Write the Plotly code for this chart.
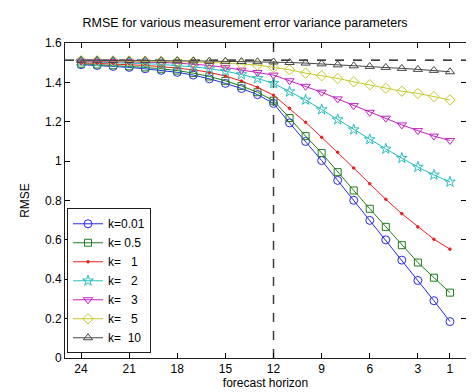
import plotly.graph_objects as go

horizon = list(range(24, 0, -1))

k_001 = [1.490, 1.486, 1.481, 1.476, 1.469, 1.461, 1.451, 1.437, 1.418, 1.395, 1.369, 1.338,
         1.293, 1.194, 1.100, 1.003, 0.902, 0.801, 0.699, 0.600, 0.497, 0.394, 0.291, 0.185]
k_05 = [1.495, 1.491, 1.487, 1.482, 1.476, 1.469, 1.460, 1.447, 1.430, 1.408, 1.382, 1.350,
        1.307, 1.219, 1.127, 1.041, 0.944, 0.851, 0.758, 0.666, 0.573, 0.485, 0.408, 0.332]
k_1 = [1.500, 1.497, 1.494, 1.490, 1.486, 1.480, 1.473, 1.464, 1.451, 1.432, 1.407, 1.375,
       1.335, 1.268, 1.197, 1.121, 1.045, 0.965, 0.885, 0.806, 0.733, 0.666, 0.603, 0.553]
k_2 = [1.505, 1.503, 1.501, 1.498, 1.495, 1.491, 1.486, 1.479, 1.470, 1.457, 1.440, 1.420,
       1.395, 1.353, 1.311, 1.262, 1.211, 1.160, 1.110, 1.062, 1.015, 0.970, 0.930, 0.894]
k_3 = [1.508, 1.507, 1.506, 1.505, 1.503, 1.501, 1.498, 1.493, 1.486, 1.476, 1.462, 1.450,
       1.437, 1.408, 1.380, 1.350, 1.316, 1.282, 1.248, 1.218, 1.184, 1.155, 1.127, 1.105]
k_5 = [1.510, 1.510, 1.509, 1.509, 1.508, 1.507, 1.506, 1.504, 1.501, 1.498, 1.493, 1.488,
       1.476, 1.464, 1.447, 1.434, 1.420, 1.403, 1.388, 1.370, 1.355, 1.344, 1.328, 1.311]
k_10 = [1.512, 1.512, 1.511, 1.511, 1.511, 1.510, 1.510, 1.509, 1.508, 1.507, 1.506, 1.505,
        1.504, 1.501, 1.498, 1.494, 1.489, 1.484, 1.481, 1.476, 1.471, 1.466, 1.461, 1.454]

series_names = ["k=0.01", "k=\u00a00.5", "k=\u00a0\u00a0\u00a01", "k=\u00a0\u00a0\u00a02",
                "k=\u00a0\u00a0\u00a03", "k=\u00a0\u00a0\u00a05", "k=\u00a0\u00a010"]
series_values = [k_001, k_05, k_1, k_2, k_3, k_5, k_10]

baseline = 1.513
split_horizon = 12

x_ticks = [24, 21, 18, 15, 12, 9, 6, 3, 1]
y_ticks = [0, 0.2, 0.4, 0.6, 0.8, 1.0, 1.2, 1.4, 1.6]
y_tick_labels = ["0", "0.2", "0.4", "0.6", "0.8", "1", "1.2", "1.4", "1.6"]

colors = ["rgb(40,40,235)", "rgb(30,125,30)", "rgb(235,30,30)", "rgb(40,190,190)",
          "rgb(195,30,195)", "rgb(200,200,40)", "rgb(70,70,70)"]
symbols = ["circle-open", "square-open", "circle", "star-open", "triangle-down-open",
           "diamond-open", "triangle-up-open"]
sizes = [8, 7, 2.5, 8, 8, 8, 8]

fig = go.Figure()

for name, vals, c, s, sz in zip(series_names, series_values, colors, symbols, sizes):
    fig.add_trace(go.Scatter(
        x=horizon, y=vals, name=name, mode="lines+markers",
        line=dict(color=c, width=1),
        marker=dict(symbol=s, size=sz, color=c, line=dict(color=c, width=1)),
    ))

fig.add_shape(type="line", xref="paper", yref="y", x0=0, x1=1, y0=baseline, y1=baseline,
              line=dict(color="black", width=1.2, dash="dash"), layer="below")
fig.add_shape(type="line", xref="x", yref="paper", x0=split_horizon, x1=split_horizon, y0=0, y1=1,
              line=dict(color="rgb(60,60,60)", width=1.5, dash="dash"), layer="below")

font = "Liberation Sans, Arial, Helvetica, sans-serif"
fig.update_layout(
    width=474, height=392,
    margin=dict(l=57, r=16, t=35, b=42),
    paper_bgcolor="white", plot_bgcolor="white",
    font=dict(family=font, size=12, color="black"),
    title=dict(text="RMSE for various measurement error variance parameters",
               x=0.5, xanchor="center", y=0.962, yanchor="middle",
               font=dict(size=12.5, family=font, color="black")),
    showlegend=True,
    legend=dict(x=0.005, y=0.015, xanchor="left", yanchor="bottom",
                bgcolor="white", bordercolor="rgb(30,30,30)", borderwidth=1,
                font=dict(size=12, family=font), tracegroupgap=0, itemwidth=30),
)
fig.update_xaxes(range=[25, 0], tickvals=x_ticks, ticktext=[str(t) for t in x_ticks],
                 ticks="inside", ticklen=5, tickcolor="black",
                 showline=True, linecolor="rgb(30,30,30)", linewidth=1, mirror="ticks",
                 showgrid=False, zeroline=False,
                 title=dict(text="forecast horizon", standoff=3, font=dict(size=12)))
fig.update_yaxes(range=[0, 1.6], tickvals=y_ticks, ticktext=y_tick_labels,
                 ticks="inside", ticklen=5, tickcolor="black",
                 showline=True, linecolor="rgb(30,30,30)", linewidth=1, mirror="ticks",
                 showgrid=False, zeroline=False,
                 title=dict(text="RMSE", standoff=12, font=dict(size=12)))

fig.write_html("out.html")
